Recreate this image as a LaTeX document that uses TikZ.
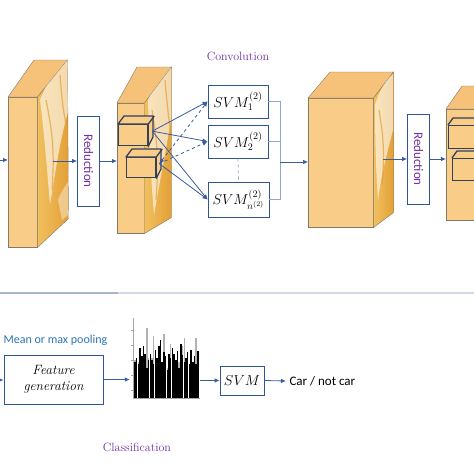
\documentclass[tikz,border=0pt]{standalone}
\usepackage{fontspec}
\newfontfamily\calibri{Carlito}
\usetikzlibrary{arrows.meta, positioning, calc}

\definecolor{frontC}{HTML}{F9CC88}
\definecolor{topC}{HTML}{F6C27A}
\definecolor{sideC}{HTML}{E3A036}
\definecolor{sideL}{HTML}{F1C060}
\definecolor{edgeC}{HTML}{857A66}
\definecolor{boxC}{HTML}{2F5597}
\definecolor{arrowC}{HTML}{3A5DA0}
\definecolor{cubeC}{HTML}{34405A}
\definecolor{purpleC}{HTML}{7030A0}
\definecolor{poolC}{HTML}{2E75B6}
\definecolor{mergeC}{HTML}{8FA7D0}
\definecolor{sepC}{HTML}{D2DAE7}
\definecolor{sepD}{HTML}{A9B6CC}

\begin{document}
\begin{tikzpicture}[x=1pt, y=-1pt,
  face/.style={rectangle, draw=edgeC, line width=0.5pt, fill=frontC, inner sep=0pt, anchor=north west},
  topface/.style={draw=edgeC, line width=0.4pt, fill=topC},
  sideface/.style={draw=edgeC, line width=0.4pt, left color=sideL, right color=sideC},
  swoosh/.style={fill=white, opacity=0.6},
  streak/.style={draw=sideC, line width=1.2pt, opacity=0.7},
  cubefront/.style={rectangle, draw=cubeC, line width=1.3pt, fill=frontC, inner sep=0pt, anchor=north west},
  cubeedge/.style={draw=cubeC, line width=1.3pt, fill=frontC, line join=round},
  redbox/.style={rectangle, draw=boxC, line width=0.8pt, fill=white, minimum width=22pt, minimum height=90pt, inner sep=0pt, text=purpleC, font=\calibri\fontsize{13}{15}\selectfont},
  svmbox/.style={rectangle, draw=boxC, line width=0.8pt, fill=white, minimum width=60pt, minimum height=33pt, inner sep=0pt, font=\fontsize{14}{16}\selectfont},
  featbox/.style={rectangle, draw=boxC, line width=0.8pt, fill=white, minimum width=99pt, minimum height=49pt, align=center, font=\itshape\fontsize{13.5}{16}\selectfont},
  arr/.style={-{Latex[length=5pt,width=4.5pt]}, draw=arrowC, line width=0.8pt},
  merge/.style={draw=mergeC, line width=0.7pt},
  label/.style={font=\fontsize{12}{14}\selectfont, text=purpleC}
]
\clip (0,0) rectangle (474,474);
\fill[white] (0,0) rectangle (474,474);

% ============================================
% FEATURE VOLUMES
% ============================================
% volume 1
\node[face, minimum width=29pt, minimum height=150pt] (blk1) at (8,97) {};
\fill[topface] (blk1.north west) -- ++(26,-37) -- ([shift={(30,-37)}]blk1.north east) -- (blk1.north east) -- cycle;
\path[sideface] (blk1.north east) -- ++(30,-37) -- ([shift={(31,-29)}]blk1.south east) -- (blk1.south east) -- cycle;
\begin{scope}
  \clip (blk1.north east) -- ++(30,-37) -- ([shift={(31,-29)}]blk1.south east) -- (blk1.south east) -- cycle;
  \fill[swoosh] (40,100) .. controls (50,75) and (60,64) .. (68,60) -- (68,112) .. controls (60,140) and (56,168) .. (50,205) .. controls (47,170) and (44,130) .. (40,100) -- cycle;
  \draw[streak] (46,100) .. controls (52,130) and (55,150) .. (52,190);
  \draw[streak] (60,75) .. controls (62,100) and (64,120) .. (68,130);
  \fill[white, opacity=0.4] (58,200) .. controls (62,190) and (66,185) .. (68,182) -- (68,215) -- (62,220) -- cycle;
\end{scope}

% volume 2
\node[face, minimum width=27pt, minimum height=130pt] (blk2) at (117,103) {};
\fill[topface] (blk2.north west) -- ++(20,-36) -- ([shift={(27,-36)}]blk2.north east) -- (blk2.north east) -- cycle;
\path[sideface] (blk2.north east) -- ++(27,-36) -- ([shift={(27,-16)}]blk2.south east) -- (blk2.south east) -- cycle;
\begin{scope}
  \clip (blk2.north east) -- ++(27,-36) -- ([shift={(27,-16)}]blk2.south east) -- (blk2.south east) -- cycle;
  \fill[swoosh] (148,100) .. controls (155,85) and (165,72) .. (171,68) -- (171,120) .. controls (166,150) and (160,180) .. (154,215) .. controls (151,180) and (149,140) .. (148,100) -- cycle;
  \draw[streak] (152,110) .. controls (157,140) and (159,160) .. (156,200);
  \draw[streak] (165,80) .. controls (167,105) and (169,120) .. (171,135);
\end{scope}

% volume 3
\node[face, minimum width=65pt, minimum height=129pt] (blk3) at (308,98) {};
\fill[topface] (blk3.north west) -- ++(22,-26) -- ([shift={(20,-26)}]blk3.north east) -- (blk3.north east) -- cycle;
\path[sideface] (blk3.north east) -- ++(20,-26) -- ([shift={(20,-15)}]blk3.south east) -- (blk3.south east) -- cycle;
\begin{scope}
  \clip (blk3.north east) -- ++(20,-26) -- ([shift={(20,-15)}]blk3.south east) -- (blk3.south east) -- cycle;
  \fill[swoosh] (375,105) .. controls (380,88) and (388,78) .. (393,74) -- (393,130) .. controls (388,150) and (382,170) .. (378,200) .. controls (376,170) and (375,140) .. (375,105) -- cycle;
  \draw[streak] (379,110) .. controls (383,135) and (385,150) .. (382,185);
\end{scope}

% volume 4 (cut by the right border)
\node[face, minimum width=44pt, minimum height=111pt] (blk4) at (446,109) {};
\fill[topface] (blk4.north west) -- ++(16,-23) -- ([shift={(16,-23)}]blk4.north east) -- (blk4.north east) -- cycle;

% windows (small cubes)
\node[cubefront, minimum width=29pt, minimum height=21pt] (c1) at (118,124) {};
\draw[cubeedge] (c1.north west) -- ++(6,-8) -- ++(29,0) -- ++(0,21) -- (c1.south east) -- (c1.north east) -- cycle;
\draw[cubeedge] (c1.north east) -- ++(6,-8);
\node[cubefront, minimum width=29pt, minimum height=20pt] (c2) at (126,157) {};
\draw[cubeedge] (c2.north west) -- ++(6,-8) -- ++(29,0) -- ++(0,20) -- (c2.south east) -- (c2.north east) -- cycle;
\draw[cubeedge] (c2.north east) -- ++(6,-8);
\node[cubefront, minimum width=40pt, minimum height=23pt] (c3) at (448,125) {};
\draw[cubeedge] (c3.north west) -- ++(5,-7) -- ++(40,0);
\node[cubefront, minimum width=40pt, minimum height=22pt] (c4) at (452,158) {};
\draw[cubeedge] (c4.north west) -- ++(5,-7) -- ++(40,0);

% ============================================
% REDUCTION AND SVM BOXES
% ============================================
\node[redbox] (red1) at (88.5,161) {\rotatebox{-90}{Reduction}};
\node[redbox] (red2) at (418.5,159) {\rotatebox{-90}{Reduction}};

\node[label] (convlabel) at (238,56) {Convolution};
\node[svmbox] (svm1) at (238,101.5) {$SVM_{1}^{(2)}$};
\node[svmbox] (svm2) at (238,141.5) {$SVM_{2}^{(2)}$};
\node[svmbox, minimum width=61pt, minimum height=35pt] (svm3) at (238.5,199.5) {$SVM_{n^{(2)}}^{(2)}$};
\draw[merge, dashed] (svm2.south) -- (svm3.north);

% arrows of the upper row
\coordinate (in1) at (0,160);
\coordinate (side1) at (53,161);
\coordinate (side3) at (383,159);
\coordinate (mjoin) at (280,162);
\draw[arr] (in1) -- (in1 -| blk1.west);
\draw[arr] (side1) -- (red1.west);
\draw[arr] (red1.east) -- (red1.east -| blk2.west);

\draw[arr] ([shift={(4,-4)}]c1.east) -- (svm1.west);
\draw[arr] ([shift={(4,-4)}]c1.east) -- (svm2.west);
\draw[arr] ([shift={(4,-4)}]c1.east) -- (svm3.west);
\draw[arr, {Latex[length=5pt,width=4.5pt]}-{Latex[length=5pt,width=4.5pt]}, dashed] ([shift={(3,-4)}]c2.east) -- (svm1.west);
\draw[arr, dashed] ([shift={(3,-4)}]c2.east) -- (svm2.west);
\draw[arr] ([shift={(3,-4)}]c2.east) -- (svm3.west);

\draw[merge] (svm1.east) -| (mjoin);
\draw[merge] (svm3.east) -| (mjoin);
\draw[merge] (svm2.east) -- (svm2.east -| mjoin);
\draw[arr, line width=0.6pt] (mjoin) -- (mjoin -| blk3.west);
\draw[arr] (side3) -- (side3 -| red2.west);
\draw[arr] (red2.east) -- (red2.east -| blk4.west);

% separator
\draw[sepC, line width=1.4pt] (0,293) -- (474,293);
\draw[sepD, line width=1.4pt] (0,293) -- (118,293);

% ============================================
% CLASSIFICATION
% ============================================
\node[anchor=west, text=poolC, font=\calibri\fontsize{12}{14}\selectfont] (poollabel) at (0,340) {Mean or max pooling};
\node[featbox] (feat) at (53.5,379.5) {Feature\\generation};

% histogram of features
\node[minimum width=70pt, minimum height=80pt, inner sep=0pt] (hist) at (165,358) {};
\draw[gray!70, line width=0.4pt] (133,318) -- (133,398) -- (200,398);
\foreach \t in {330,345,360,375,390} {
  \draw[gray!70, line width=0.4pt] (131,\t) -- (133,\t);
}
\foreach \h [count=\i] in {38,40,36,50,42,52,44,70,40,44,40,62,48,40,52,58,36,64,42,30,44,54,50,44,38,47,36,54,52,60,40,46,34,48,36,42,60,47} {
  \fill[gray!60] (132.5+\i*1.7,398) rectangle ++(1.5,-\h);
}
\foreach \h [count=\i] in {36,40,34,50,42,52,44,30,38,44,38,34,48,40,52,58,36,46,42,28,44,40,50,44,38,47,30,54,43,36,40,46,34,48,36,42,34,47} {
  \fill[black] (132.5+\i*1.7,398) rectangle ++(1.5,-\h);
}

\node[svmbox, minimum width=44pt, minimum height=29pt] (svm) at (242,380.5) {$SVM$};
\node[anchor=west, font=\calibri\fontsize{13}{15}\selectfont] (carlabel) at (286,381) {Car / not car};
\node[label] (classlabel) at (137,447) {Classification};

\coordinate (in2) at (0,380);
\draw[arr] (in2) -- (in2 -| feat.west);
\draw[arr] (feat.east) -- (feat.east -| hist.west);
\draw[arr] (svm.west -| hist.east) -- (svm.west);
\draw[arr] (svm.east) -- (carlabel.west);

\end{tikzpicture}
\end{document}
